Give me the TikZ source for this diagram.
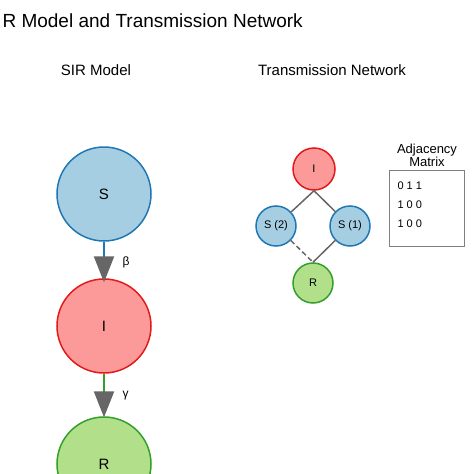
\documentclass[tikz,border=0pt]{standalone}
\usepackage{fontspec}
\setmainfont{Liberation Sans}
\usetikzlibrary{positioning,arrows.meta}
\definecolor{sfill}{HTML}{A6CEE3}
\definecolor{sedge}{HTML}{1F78B4}
\definecolor{ifill}{HTML}{FB9A99}
\definecolor{iedge}{HTML}{E31A1C}
\definecolor{rfill}{HTML}{B2DF8A}
\definecolor{redge}{HTML}{33A02C}
\definecolor{linkgray}{HTML}{666666}
\tikzset{
  bigstate/.style={circle, minimum size=94pt, inner sep=0pt, line width=1.5pt, font=\fontsize{15}{17}\selectfont},
  netstate/.style={circle, minimum size=40pt, inner sep=0pt, line width=1.5pt, font=\fontsize{11}{13}\selectfont},
  flow/.style={line width=2.5pt, -{Triangle[width=20pt,length=26pt,color=linkgray]}},
  rate/.style={text=black, right=14pt, font=\fontsize{12}{14}\selectfont},
  link/.style={draw=linkgray, line width=1.5pt}
}

\begin{document}
\begin{tikzpicture}[x=1pt, y=-1pt]
  \useasboundingbox (0,0) rectangle (474,474);
  % Titles
  \node (title) [anchor=west, font=\fontsize{19}{22}\selectfont] at (-1,21) {R Model and Transmission Network};
  \node (sirtitle) [font=\fontsize{15}{17}\selectfont] at (96,70) {SIR Model};
  \node (nettitle) [font=\fontsize{15}{17}\selectfont] at (332,70) {Transmission Network};

  % SIR model
  \node (S) [bigstate, fill=sfill, draw=sedge] at (104,194) {S};
  \node (I) [bigstate, fill=ifill, draw=iedge] at (104,326) {I};
  \node (R) [bigstate, fill=rfill, draw=redge] at (104,464) {R};
  \draw[flow, sedge] (S.south) -- ([yshift=-4pt]I.north) node[pos=0.5, rate] {β};
  \draw[flow, redge] (I.south) -- ([yshift=-1pt]R.north) node[pos=0.5, rate] {γ};

  % Transmission network
  \node (netI) [netstate, fill=ifill, draw=iedge, minimum size=42pt] at (314,169) {I};
  \node (s2) [netstate, fill=sfill, draw=sedge] at (276,226) {S (2)};
  \node (s1) [netstate, fill=sfill, draw=sedge] at (350,226) {S (1)};
  \node (netR) [netstate, fill=rfill, draw=redge] at (313,283) {R};
  \draw[link] (netI.south) -- (s2);
  \draw[link] (netI.south) -- (s1);
  \draw[link, dashed, dash pattern=on 5pt off 3pt] (s2) -- (netR.north);
  \draw[link] (s1) -- (netR.north);

  % Adjacency matrix
  \node (adjlabel) [align=center, font=\fontsize{13}{12}\selectfont] at (427,155) {Adjacency\\Matrix};
  \node (adjbox) [draw=gray, line width=1pt, minimum width=75pt, minimum height=76pt] at (426.5,208) {};
  \node (adjrows) [anchor=north west, align=left, font=\fontsize{11}{19}\selectfont] at (394,178) {0 1 1\\1 0 0\\1 0 0};
\end{tikzpicture}
\end{document}
